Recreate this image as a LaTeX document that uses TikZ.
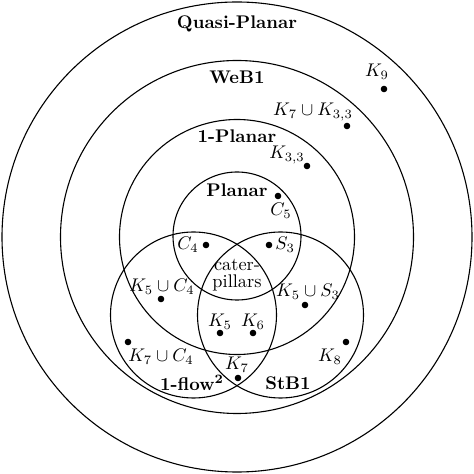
\documentclass[tikz,border=0pt]{standalone}
\usepackage{amsmath}
\begin{document}
\begin{tikzpicture}[x=0.546pt,y=0.546pt,
  ring/.style={draw=black,line width=0.6pt},
  title/.style={font=\bfseries,inner sep=0pt},
  lbl/.style={inner sep=0pt},
  pt/.style={circle,fill=black,inner sep=0pt,minimum size=3.6pt}]
\useasboundingbox (0,0) rectangle (474,474);
% circles
\draw[ring] (237,237) circle[radius=235];
\draw[ring] (237,237) circle[radius=176.5];
\draw[ring] (237,237) circle[radius=117.5];
\draw[ring] (237,238) circle[radius=64];
\draw[ring] (193.5,159) circle[radius=83];
\draw[ring] (280.5,159) circle[radius=83];
% titles
\node[title] (tq) at (237,450) {Quasi-Planar};
\node[title] (tw) at (237,397) {WeB1};
\node[title] (t1) at (237,338) {1-Planar};
\node[title] (tp) at (237,284) {Planar};
\node[title] (tf) at (192,91) {1-flow$^{\mathbf{2}}$};
\node[title] (ts) at (288,91) {StB1};
% points and labels
\node[lbl] (lk9) at (377,402) {$K_9$};
\node[pt] (pk9) at (384,385) {};
\node[lbl] (lk733) at (313,362) {$K_7\cup K_{3,3}$};
\node[pt] (pk733) at (347,348) {};
\node[lbl] (lk33) at (287,319) {$K_{3,3}$};
\node[pt] (pk33) at (307,308) {};
\node[pt] (pc5) at (278,278) {};
\node[lbl] (lc5) at (281,263) {$C_5$};
\node[lbl] (lc4) at (188,229) {$C_4$};
\node[pt] (pc4) at (206,229) {};
\node[pt] (ps3) at (269,229) {};
\node[lbl] (ls3) at (285,229) {$S_3$};
\node[lbl,align=center] (lcat) at (237,199) {cater-\\[-3pt]pillars};
\node[lbl] (lk5c4) at (162,187) {$K_5\cup C_4$};
\node[pt] (pk5c4) at (161,175) {};
\node[lbl] (lk5s3) at (308,182) {$K_5\cup S_3$};
\node[pt] (pk5s3) at (305,169) {};
\node[lbl] (lk5) at (220,152) {$K_5$};
\node[pt] (pk5) at (220,141) {};
\node[lbl] (lk6) at (253,152) {$K_6$};
\node[pt] (pk6) at (253,141) {};
\node[pt] (pk7c4) at (128,132) {};
\node[lbl] (lk7c4) at (161,117) {$K_7\cup C_4$};
\node[pt] (pk8) at (346,132) {};
\node[lbl] (lk8) at (330,117) {$K_8$};
\node[lbl] (lk7) at (237,109) {$K_7$};
\node[pt] (pk7) at (238,96) {};
\end{tikzpicture}
\end{document}
